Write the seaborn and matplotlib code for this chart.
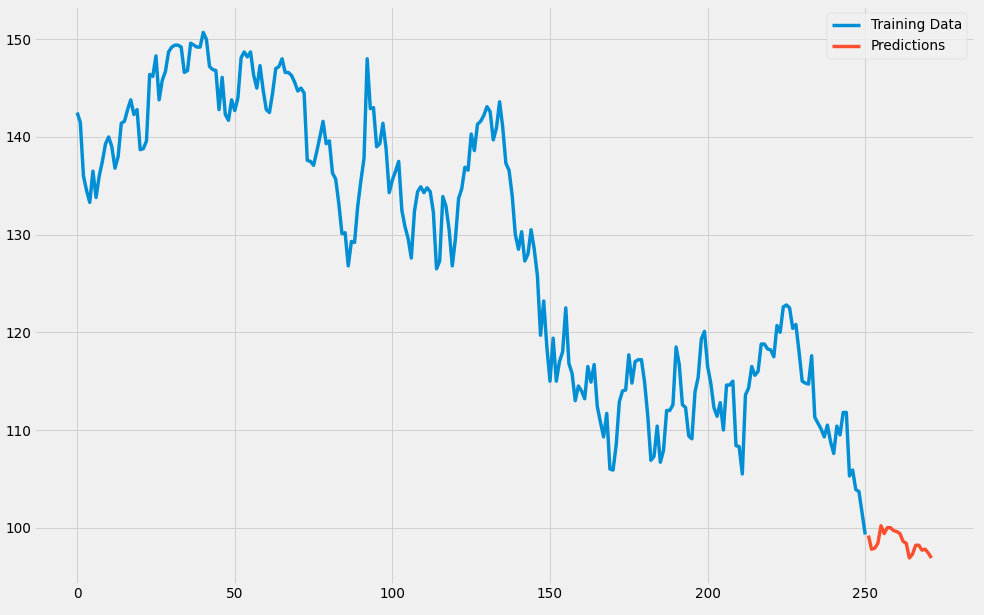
import matplotlib
matplotlib.use("Agg")
import matplotlib.pyplot as plt
import seaborn as sns
import numpy as np

train_values = [142.5,141.5,136,134.5,133.3,136.5,133.8,136,137.5,139.3,140,139,136.8,138,141.4,141.6,142.8,143.8,142.3,142.8,
138.7,138.8,139.6,146.4,146.2,148.3,143.8,145.8,146.7,148.7,149.2,149.4,149.4,149.2,146.6,146.8,149.6,149.4,149.2,149.2,
150.7,150,147.2,146.9,146.8,142.8,146.1,142.3,141.7,143.8,142.7,144,148.1,148.7,148.2,148.7,146.3,145,147.3,144.8,
142.8,142.5,144.5,147,147.2,148,146.6,146.6,146.3,145.6,144.7,145,144.5,137.6,137.5,137.1,138.5,140,141.6,139.3,
139.6,136.3,135.7,133.2,130.1,130.2,126.8,129.3,129.2,132.9,135.5,137.8,148,142.9,143,139,139.3,141.4,138.8,134.3,
135.6,136.5,137.5,132.5,130.8,129.6,127.6,132.4,134.4,134.9,134.3,134.8,134.4,132.3,126.5,127.3,133.9,132.9,130.5,126.8,
129.6,133.7,134.7,136.9,136.6,140.3,138.6,141.3,141.6,142.2,143.1,142.6,139.7,140.9,143.6,141,137.3,136.6,134,130,
128.5,130.3,127.3,128,130.5,128.5,125.8,119.7,123.2,118.5,115,119.4,115,117,118,122.5,116.8,115.8,113,114.5,
114,113.2,116.5,114.9,116.7,112.4,110.8,109.3,111.7,106,105.9,108.5,112.9,114,114.1,117.7,114.8,117,117.2,117.2,
114.9,111.5,106.9,107.3,110.4,106.7,107.9,112,112,112.6,118.5,116.7,112.6,112.3,109.4,109.1,113.9,115.4,119.3,120.1,
116.5,114.8,112.3,111.4,112.8,110,114.6,114.6,115,108.4,108.3,105.5,113.6,114.3,116.5,115.6,116,118.8,118.8,118.3,
118.2,117.5,120.7,120,122.6,122.8,122.5,120.4,120.8,118,115,114.8,114.7,117.6,111.3,110.7,110.1,109.3,110.5,108.8,
107.6,110.4,109.5,111.8,111.8,105.3,105.9,103.9,103.7,101.5,99.3]
pred_values = [99.2,97.8,97.9,98.4,100.2,99.4,100,100,99.7,99.6,99.4,98.6,98.4,96.9,97.3,98.2,98.2,97.7,97.8,97.4,96.9]

train_x = np.arange(len(train_values))
pred_x = np.arange(len(train_values), len(train_values) + len(pred_values))

plt.style.use("fivethirtyeight")
fig, ax = plt.subplots(figsize=(16, 10), dpi=61.5)
sns.lineplot(x=train_x, y=train_values, ax=ax, label="Training Data", color="#008fd5", linewidth=4)
sns.lineplot(x=pred_x, y=pred_values, ax=ax, label="Predictions", color="#fc4f30", linewidth=4)
ax.legend(loc="upper right", fontsize=16)
ax.tick_params(labelsize=16)
fig.subplots_adjust(left=0.035, right=0.99, top=0.99, bottom=0.05)
fig.savefig("out.png")
